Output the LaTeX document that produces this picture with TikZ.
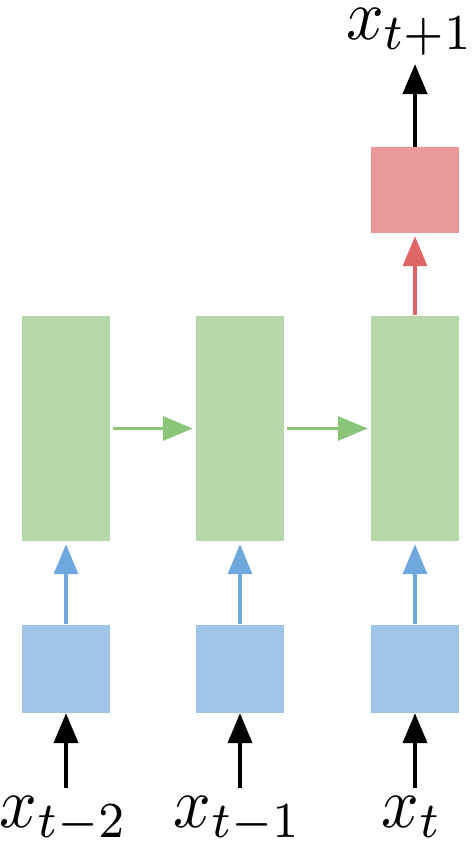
\documentclass[tikz,border=0pt]{standalone}
\usepackage{graphicx}
\usetikzlibrary{arrows.meta}
\definecolor{gbox}{HTML}{B6D7A8}
\definecolor{bbox}{HTML}{9FC5E8}
\definecolor{rbox}{HTML}{EA9999}
\definecolor{garr}{HTML}{8BC57A}
\definecolor{barr}{HTML}{6FA8DC}
\definecolor{rarr}{HTML}{E06666}
\newcommand{\biglab}[1]{\scalebox{6.6}[7.2]{$#1$}}
\begin{document}
\begin{tikzpicture}[x=1pt,y=-1pt,
  cell/.style={fill=gbox,draw=none,minimum width=88pt,minimum height=225pt,inner sep=0pt},
  inbox/.style={fill=bbox,draw=none,minimum width=88pt,minimum height=88pt,inner sep=0pt},
  outbox/.style={fill=rbox,draw=none,minimum width=88pt,minimum height=86pt,inner sep=0pt},
  lab/.style={inner sep=0pt},
  blk/.style={line width=4pt,black,-{Triangle[width=24pt,length=30pt]}},
  garrow/.style={line width=3.5pt,garr,-{Triangle[width=24pt,length=30pt]}},
  barrow/.style={line width=3.5pt,barr,-{Triangle[width=24pt,length=30pt]}},
  rarrow/.style={line width=3.5pt,rarr,-{Triangle[width=24pt,length=30pt]}}]
\useasboundingbox (0,0) rectangle (474,846);
\node[cell] (g1) at (66,428.5) {};
\node[cell] (g2) at (240,428.5) {};
\node[cell] (g3) at (415,428.5) {};
\node[inbox] (b1) at (66,669) {};
\node[inbox] (b2) at (240,669) {};
\node[inbox] (b3) at (415,669) {};
\node[outbox] (r) at (415,190) {};
\node[lab,anchor=base] (l1) at (64,827) {\biglab{x_{t-2}}};
\node[lab,anchor=base] (l2) at (238,827) {\biglab{x_{t-1}}};
\node[lab,anchor=base] (l3) at (412,827) {\biglab{x_t}};
\node[lab,anchor=base] (lt) at (410,39) {\biglab{x_{t+1}}};
\draw[blk,shorten <=8pt,shorten >=0pt] (l1.north -| b1.south) -- (b1.south);
\draw[blk,shorten <=8pt] (l2.north -| b2.south) -- (b2.south);
\draw[blk,shorten <=8pt] (l3.north -| b3.south) -- (b3.south);
\draw[barrow,shorten <=1pt,shorten >=3pt] (b1.north) -- (g1.south);
\draw[barrow,shorten <=1pt,shorten >=3pt] (b2.north) -- (g2.south);
\draw[barrow,shorten <=1pt,shorten >=3pt] (b3.north) -- (g3.south);
\draw[garrow,shorten <=3pt,shorten >=3pt] (g1.east) -- (g2.west);
\draw[garrow,shorten <=3pt,shorten >=3pt] (g2.east) -- (g3.west);
\draw[rarrow,shorten <=1pt,shorten >=3pt] (g3.north) -- (r.south);
\draw[blk,shorten >=8pt] (r.north) -- (r.north |- lt.south);
\end{tikzpicture}
\end{document}
